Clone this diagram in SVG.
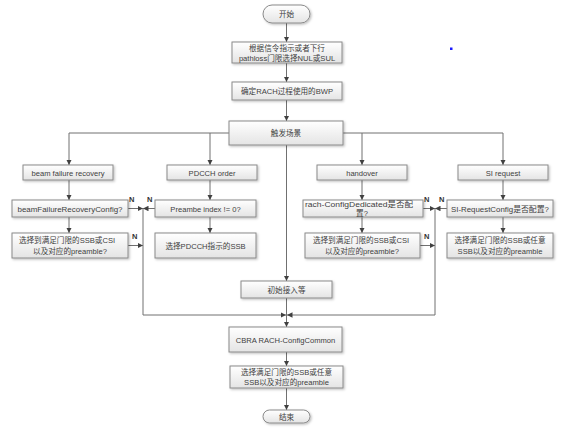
<svg xmlns="http://www.w3.org/2000/svg" width="568" height="431" viewBox="0 0 568 431">
<defs>
<linearGradient id="g" x1="0" y1="0" x2="0" y2="1">
<stop offset="0" stop-color="#ffffff"/>
<stop offset="1" stop-color="#e4e4e4"/>
</linearGradient>
<filter id="sh" x="-10%" y="-20%" width="130%" height="160%">
<feDropShadow dx="1.2" dy="1.2" stdDeviation="0.8" flood-color="#000" flood-opacity="0.25"/>
</filter>
<marker id="a" viewBox="0 0 10 10" refX="10" refY="5" markerWidth="5.5" markerHeight="5.5" orient="auto" markerUnits="userSpaceOnUse">
<path d="M0,0 L10,5 L0,10 z" fill="#404040"/>
</marker>
</defs>
<style>
.b{fill:url(#g);stroke:#8a8a8a;stroke-width:1;filter:url(#sh)}
.t{font-family:"Liberation Sans","Noto Sans CJK SC",sans-serif;font-size:7.6px;fill:#404040;text-anchor:middle}
.n{font-family:"Liberation Sans",sans-serif;font-size:7.5px;fill:#333;font-weight:bold}
.c{fill:none;stroke:#707070;stroke-width:1}
</style>
<rect x="450" y="47.5" width="2.5" height="2.5" fill="#1a1aff"/>
<g id="connectors">
<path class="c" d="M286.5,23 V42" marker-end="url(#a)"/>
<path class="c" d="M286.5,63 V82" marker-end="url(#a)"/>
<path class="c" d="M286.5,100 V121" marker-end="url(#a)"/>
<path class="c" d="M229,133 H69 V165" marker-end="url(#a)"/>
<path class="c" d="M210,133 V165" marker-end="url(#a)"/>
<path class="c" d="M343,133 H503 V165" marker-end="url(#a)"/>
<path class="c" d="M362,133 V165" marker-end="url(#a)"/>
<path class="c" d="M69,180 V200" marker-end="url(#a)"/>
<path class="c" d="M210,180 V200" marker-end="url(#a)"/>
<path class="c" d="M362,180 V200" marker-end="url(#a)"/>
<path class="c" d="M503,180 V200" marker-end="url(#a)"/>
<path class="c" d="M69,217 V233" marker-end="url(#a)"/>
<path class="c" d="M210,217 V233" marker-end="url(#a)"/>
<path class="c" d="M362,217 V233" marker-end="url(#a)"/>
<path class="c" d="M503,217 V233" marker-end="url(#a)"/>
<path class="c" d="M128,208.5 H143" marker-end="url(#a)"/>
<path class="c" d="M155,208.5 H143" marker-end="url(#a)"/>
<path class="c" d="M128,245.5 H143" marker-end="url(#a)"/>
<path class="c" d="M423,208.5 H435" marker-end="url(#a)"/>
<path class="c" d="M447,208.5 H435" marker-end="url(#a)"/>
<path class="c" d="M420,245.5 H435" marker-end="url(#a)"/>
<path class="c" d="M143,208.5 V315 H286" marker-end="url(#a)"/>
<path class="c" d="M435,208.5 V315 H287" marker-end="url(#a)"/>
<path class="c" d="M286.5,145 V281" marker-end="url(#a)"/>
<path class="c" d="M286.5,298 V327" marker-end="url(#a)"/>
<path class="c" d="M286.5,352 V366" marker-end="url(#a)"/>
<path class="c" d="M286.5,388 V410" marker-end="url(#a)"/>
<text class="n" x="129" y="202">N</text>
<text class="n" x="147" y="202">N</text>
<text class="n" x="132" y="239">N</text>
<text class="n" x="424" y="202">N</text>
<text class="n" x="439" y="202">N</text>
<text class="n" x="424" y="239">N</text>
</g>
<g id="start"><rect class="b" x="263" y="5" width="47" height="18" rx="9"/><text class="t" x="286.5" y="17">开始</text></g>
<g id="select-ul"><rect class="b" x="232" y="42" width="110" height="21"/><text class="t" x="287" y="51">根据信令指示或者下行</text><text class="t" x="287" y="61">pathloss门限选择NUL或SUL</text></g>
<g id="bwp"><rect class="b" x="232" y="82" width="110" height="18"/><text class="t" x="287" y="94">确定RACH过程使用的BWP</text></g>
<g id="trigger"><rect class="b" x="229" y="121" width="114" height="24"/><text class="t" x="286" y="136">触发场景</text></g>
<g id="bfr"><rect class="b" x="23" y="165" width="90" height="15"/><text class="t" x="68" y="175.5">beam failure recovery</text></g>
<g id="pdcch"><rect class="b" x="167" y="165" width="90" height="15"/><text class="t" x="212" y="175.5">PDCCH order</text></g>
<g id="handover"><rect class="b" x="317" y="165" width="90" height="15"/><text class="t" x="362" y="175.5">handover</text></g>
<g id="si"><rect class="b" x="458" y="165" width="90" height="15"/><text class="t" x="503" y="175.5">SI request</text></g>
<g id="bfr-config"><rect class="b" x="12" y="200" width="116" height="17"/><text class="t" x="70" y="211.5" textLength="105" lengthAdjust="spacingAndGlyphs">beamFailureRecoveryConfig?</text></g>
<g id="preamble-index"><rect class="b" x="155" y="200" width="101" height="17"/><text class="t" x="205.5" y="211.5">Preambe index != 0?</text></g>
<g id="rach-dedicated"><rect class="b" x="303" y="200" width="120" height="17"/><text class="t" x="359" y="207" textLength="108" lengthAdjust="spacingAndGlyphs">rach-ConfigDedicated是否配</text><text class="t" x="362" y="215.5">置?</text></g>
<g id="si-config"><rect class="b" x="447" y="200" width="106" height="17"/><text class="t" x="500" y="211.5" textLength="98" lengthAdjust="spacingAndGlyphs">SI-RequestConfig是否配置?</text></g>
<g id="bfr-select"><rect class="b" x="12" y="233" width="116" height="25"/><text class="t" x="67" y="243">选择到满足门限的SSB或CSI</text><text class="t" x="70" y="254">以及对应的preamble?</text></g>
<g id="pdcch-select"><rect class="b" x="155" y="233" width="101" height="25"/><text class="t" x="205.5" y="248.5">选择PDCCH指示的SSB</text></g>
<g id="ho-select"><rect class="b" x="305" y="233" width="115" height="25"/><text class="t" x="361" y="243">选择到满足门限的SSB或CSI</text><text class="t" x="362" y="254">以及对应的preamble?</text></g>
<g id="si-select"><rect class="b" x="447" y="233" width="106" height="25"/><text class="t" x="500" y="243">选择满足门限的SSB或任意</text><text class="t" x="500" y="254">SSB以及对应的preamble</text></g>
<g id="initial"><rect class="b" x="241" y="281" width="91" height="17"/><text class="t" x="286.5" y="292.5">初始接入等</text></g>
<g id="cbra"><rect class="b" x="229" y="327" width="113" height="25"/><text class="t" x="285.5" y="342.5">CBRA RACH-ConfigCommon</text></g>
<g id="cbra-select"><rect class="b" x="230" y="366" width="113" height="22"/><text class="t" x="286.5" y="375">选择满足门限的SSB或任意</text><text class="t" x="286.5" y="385">SSB以及对应的preamble</text></g>
<g id="end"><rect class="b" x="263" y="410" width="47" height="13" rx="6.5"/><text class="t" x="286.5" y="419.5">结束</text></g>
</svg>
